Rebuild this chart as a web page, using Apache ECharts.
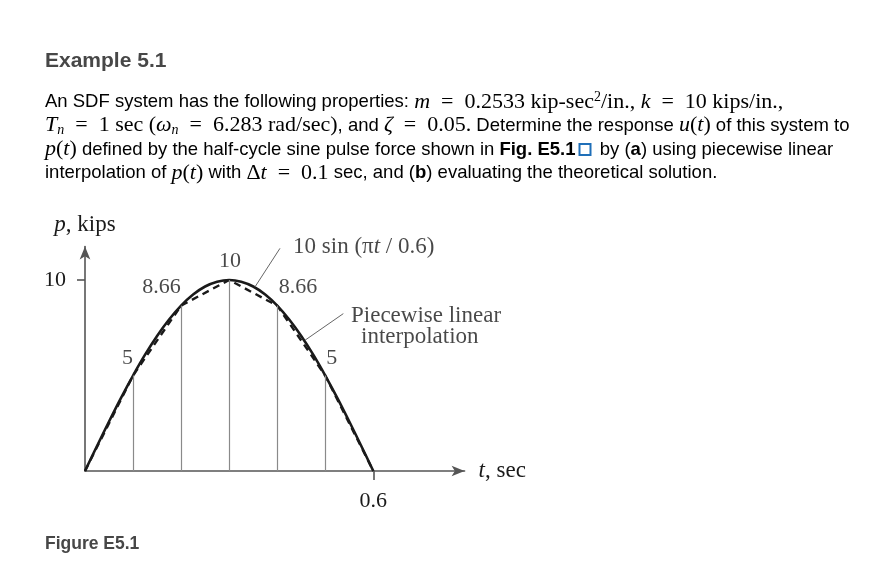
<!DOCTYPE html>
<html>
<head>
<meta charset="utf-8">
<script src="https://cdn.jsdelivr.net/npm/echarts@6/dist/echarts.min.js"></script>
<style>html,body{margin:0;padding:0;background:#fff}#c{width:880px;height:582px}</style>
</head>
<body>
<div id="c"></div>
<script>
// ---- data ----
const sampleT = [0,0.025,0.05,0.075,0.1,0.125,0.15,0.175,0.2,0.225,0.25,0.275,0.3,0.325,0.35,0.375,0.4,0.425,0.45,0.475,0.5,0.525,0.55,0.575,0.6];
const sineP = [0,1.31,2.59,3.83,5,6.09,7.07,7.93,8.66,9.24,9.66,9.91,10,9.91,9.66,9.24,8.66,7.93,7.07,6.09,5,3.83,2.59,1.31,0];
const stepT = [0,0.1,0.2,0.3,0.4,0.5,0.6];
const stepP = [0,5,8.66,10,8.66,5,0];
const valueLabels = ['', '5', '8.66', '10', '8.66', '5', ''];
const yTickValues = [10];
const xTickValues = [0.6];
const annotSine = {t: 0.433, p: 11.74, text: '10 sin (π{i|t} / 0.6)'};
const annotPw1 = {t: 0.5536, p: 8.12, text: 'Piecewise linear'};
const annotPw2 = {t: 0.5744, p: 7.0, text: 'interpolation'};
const leaderSine = [[0.354, 9.65], [0.4058, 11.66]];
const leaderPw = [[0.458, 6.85], [0.5376, 8.24]];

const serif = '"Liberation Serif", "DejaVu Serif", serif';
const sans = '"Liberation Sans", Arial, sans-serif';
const ink = '#1a1a1a';
const txt = '#474747';

const chart = echarts.init(document.getElementById('c'));

const labelOffsets = [[0,0],[-5.5,-17.5],[-19.5,-18.5],[0.8,-18.5],[20.8,-18.5],[6.4,-17.5],[0,0]];

const LH = 24;
const richPara = {
  s: {fontFamily: sans, fontSize: 18.5, color: txt, lineHeight: LH},
  b: {fontFamily: sans, fontSize: 18.5, fontWeight: 'bold', color: txt, lineHeight: LH},
  link: {fontFamily: sans, fontSize: 18.5, fontWeight: 'bold', color: '#1f6fb8', lineHeight: LH},
  mi: {fontFamily: serif, fontSize: 22, fontStyle: 'italic', color: txt, lineHeight: LH},
  mr: {fontFamily: serif, fontSize: 22, color: txt, lineHeight: LH},
  sub: {fontFamily: serif, fontSize: 14, fontStyle: 'italic', color: txt, lineHeight: 13, verticalAlign: 'bottom'},
  sup: {fontFamily: serif, fontSize: 14, color: txt, lineHeight: 12, verticalAlign: 'top'},
  ic: {width: 9, height: 9, borderColor: '#1f6fb8', borderWidth: 2, backgroundColor: '#fff'},
  gap: {width: 5, lineHeight: LH}
};

const paraLines = [
  '{s|An SDF system has the following properties: }{mi|m}{mr|  =  0.2533 kip-sec}{sup|2}{mr|/in., }{mi|k}{mr|  =  10 kips/in.,}',
  '{mi|T}{sub|n}{mr|  =  1 sec (}{mi|ω}{sub|n}{mr|  =  6.283 rad/sec)}{s|, and }{mi|ζ}{mr|  =  0.05.}{s| Determine the response }{mi|u}{mr|(}{mi|t}{mr|)}{s| of this system to}',
  '{mi|p}{mr|(}{mi|t}{mr|)}{s| defined by the half-cycle sine pulse force shown in }{link|Fig. E5.1}{gap| }{ic| }{s|  by (}{b|a}{s|) using piecewise linear}',
  '{s|interpolation of }{mi|p}{mr|(}{mi|t}{mr|)}{s| with }{mr|Δ}{mi|t}{mr|  =  0.1}{s| sec, and (}{b|b}{s|) evaluating the theoretical solution.}'
];
const paraY = [102, 125.5, 149.5, 173];

const graphics = [
  {type: 'text', left: 45, top: 51, style: {text: 'Example 5.1', fontFamily: sans, fontSize: 21, fontWeight: 'bold', fill: txt}},
  {type: 'text', left: 45, top: 535, style: {text: 'Figure E5.1', fontFamily: sans, fontSize: 17.5, fontWeight: 'bold', fill: txt}}
];
paraLines.forEach((l, i) => {
  graphics.push({type: 'text', x: 45, y: paraY[i], style: {text: l, rich: richPara, verticalAlign: 'middle', align: 'left'}});
});

const axisLineStyle = {color: '#555', width: 1.6};

chart.setOption({
  animation: false,
  backgroundColor: '#fff',
  graphic: graphics,
  grid: {left: 85, right: 415.4, top: 246.6, bottom: 111, containLabel: false},
  xAxis: {
    type: 'value', min: 0, max: 0.79,
    name: '{i|t}, sec', nameLocation: 'end', nameGap: 14,
    nameTextStyle: {fontFamily: serif, fontSize: 23, color: ink, rich: {i: {fontFamily: serif, fontStyle: 'italic', fontSize: 23, color: ink}}},
    axisLine: {show: true, onZero: false, symbol: ['none', 'arrow'], symbolSize: [8, 13], lineStyle: axisLineStyle},
    axisTick: {show: true, customValues: xTickValues, length: 9, lineStyle: axisLineStyle},
    axisLabel: {show: true, customValues: xTickValues, margin: 19, fontFamily: serif, fontSize: 22, color: ink, formatter: v => String(v)},
    splitLine: {show: false}
  },
  yAxis: {
    type: 'value', min: 0, max: 11.75,
    name: '{i|p}, kips', nameLocation: 'end', nameGap: 10,
    nameTextStyle: {fontFamily: serif, fontSize: 23, color: ink, align: 'center', rich: {i: {fontFamily: serif, fontStyle: 'italic', fontSize: 23, color: ink}}},
    axisLine: {show: true, onZero: false, symbol: ['none', 'arrow'], symbolSize: [8, 13], lineStyle: axisLineStyle},
    axisTick: {show: true, customValues: yTickValues, length: 8, lineStyle: axisLineStyle},
    axisLabel: {show: true, customValues: yTickValues, margin: 19, fontFamily: serif, fontSize: 22, color: ink, formatter: v => String(v)},
    splitLine: {show: false}
  },
  series: [
    {
      type: 'line', name: 'verticals', data: [], silent: true,
      markLine: {
        silent: true, symbol: ['none', 'none'], label: {show: false},
        lineStyle: {color: '#8a8a8a', width: 1.2, type: 'solid'},
        data: stepT.slice(1, 6).map((t, i) => [{coord: [t, 0]}, {coord: [t, stepP[i + 1]]}])
          .concat([
            [{coord: leaderSine[0], lineStyle: {color: '#666', width: 1}}, {coord: leaderSine[1]}],
            [{coord: leaderPw[0], lineStyle: {color: '#666', width: 1}}, {coord: leaderPw[1]}]
          ])
      }
    },
    {
      type: 'line', name: 'piecewise', data: stepT.map((t, i) => [t, stepP[i]]),
      symbol: 'none', lineStyle: {color: ink, width: 2.4, type: [7, 5]}, z: 3
    },
    {
      type: 'line', name: 'sine', data: sampleT.map((t, i) => [t, sineP[i]]),
      symbol: 'none', smooth: 0.3, lineStyle: {color: ink, width: 2.6}, z: 4
    },
    {
      type: 'scatter', name: 'valueLabels', symbolSize: 0, silent: true, clip: false,
      data: stepT.map((t, i) => ({
        value: [t, stepP[i]],
        label: {show: valueLabels[i] !== '', position: 'inside', offset: labelOffsets[i], formatter: valueLabels[i],
          fontFamily: serif, fontSize: 22, color: ink}
      }))
    },
    {
      type: 'scatter', name: 'annotations', symbolSize: 0, silent: true, clip: false,
      data: [annotSine, annotPw1, annotPw2].map(a => ({
        value: [a.t, a.p],
        label: {show: true, position: 'inside', align: 'left', verticalAlign: 'middle', formatter: a.text,
          fontFamily: serif, fontSize: 23, color: ink,
          rich: {i: {fontFamily: serif, fontStyle: 'italic', fontSize: 23, color: ink}}}
      }))
    }
  ]
});
</script>
</body>
</html>
